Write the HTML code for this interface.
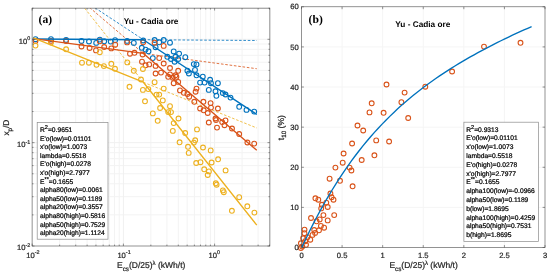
<!DOCTYPE html>
<html><head><meta charset="utf-8"><style>
html,body{margin:0;padding:0;background:#fff;}
body{width:550px;height:276px;overflow:hidden;font-family:"Liberation Sans",sans-serif;}
svg{display:block;} text{text-rendering:geometricPrecision;}
</style></head><body>
<svg style="transform:translateZ(0);will-change:transform" width="550" height="276" viewBox="0 0 550 276">
<rect width="550" height="276" fill="#fff"/>
<line x1="59.65" y1="8.14" x2="59.65" y2="246.0" stroke="#f3f3f3" stroke-width="1"/>
<line x1="75.71" y1="8.14" x2="75.71" y2="246.0" stroke="#f3f3f3" stroke-width="1"/>
<line x1="87.11" y1="8.14" x2="87.11" y2="246.0" stroke="#f3f3f3" stroke-width="1"/>
<line x1="95.95" y1="8.14" x2="95.95" y2="246.0" stroke="#f3f3f3" stroke-width="1"/>
<line x1="103.17" y1="8.14" x2="103.17" y2="246.0" stroke="#f3f3f3" stroke-width="1"/>
<line x1="109.27" y1="8.14" x2="109.27" y2="246.0" stroke="#f3f3f3" stroke-width="1"/>
<line x1="114.56" y1="8.14" x2="114.56" y2="246.0" stroke="#f3f3f3" stroke-width="1"/>
<line x1="119.23" y1="8.14" x2="119.23" y2="246.0" stroke="#f3f3f3" stroke-width="1"/>
<line x1="150.85" y1="8.14" x2="150.85" y2="246.0" stroke="#f3f3f3" stroke-width="1"/>
<line x1="166.91" y1="8.14" x2="166.91" y2="246.0" stroke="#f3f3f3" stroke-width="1"/>
<line x1="178.31" y1="8.14" x2="178.31" y2="246.0" stroke="#f3f3f3" stroke-width="1"/>
<line x1="187.15" y1="8.14" x2="187.15" y2="246.0" stroke="#f3f3f3" stroke-width="1"/>
<line x1="194.37" y1="8.14" x2="194.37" y2="246.0" stroke="#f3f3f3" stroke-width="1"/>
<line x1="200.47" y1="8.14" x2="200.47" y2="246.0" stroke="#f3f3f3" stroke-width="1"/>
<line x1="205.76" y1="8.14" x2="205.76" y2="246.0" stroke="#f3f3f3" stroke-width="1"/>
<line x1="210.43" y1="8.14" x2="210.43" y2="246.0" stroke="#f3f3f3" stroke-width="1"/>
<line x1="242.05" y1="8.14" x2="242.05" y2="246.0" stroke="#f3f3f3" stroke-width="1"/>
<line x1="258.11" y1="8.14" x2="258.11" y2="246.0" stroke="#f3f3f3" stroke-width="1"/>
<line x1="269.51" y1="8.14" x2="269.51" y2="246.0" stroke="#f3f3f3" stroke-width="1"/>
<line x1="32.1" y1="214.89" x2="269.9" y2="214.89" stroke="#f3f3f3" stroke-width="1"/>
<line x1="32.1" y1="196.69" x2="269.9" y2="196.69" stroke="#f3f3f3" stroke-width="1"/>
<line x1="32.1" y1="183.78" x2="269.9" y2="183.78" stroke="#f3f3f3" stroke-width="1"/>
<line x1="32.1" y1="173.76" x2="269.9" y2="173.76" stroke="#f3f3f3" stroke-width="1"/>
<line x1="32.1" y1="165.58" x2="269.9" y2="165.58" stroke="#f3f3f3" stroke-width="1"/>
<line x1="32.1" y1="158.66" x2="269.9" y2="158.66" stroke="#f3f3f3" stroke-width="1"/>
<line x1="32.1" y1="152.67" x2="269.9" y2="152.67" stroke="#f3f3f3" stroke-width="1"/>
<line x1="32.1" y1="147.38" x2="269.9" y2="147.38" stroke="#f3f3f3" stroke-width="1"/>
<line x1="32.1" y1="111.54" x2="269.9" y2="111.54" stroke="#f3f3f3" stroke-width="1"/>
<line x1="32.1" y1="93.34" x2="269.9" y2="93.34" stroke="#f3f3f3" stroke-width="1"/>
<line x1="32.1" y1="80.43" x2="269.9" y2="80.43" stroke="#f3f3f3" stroke-width="1"/>
<line x1="32.1" y1="70.41" x2="269.9" y2="70.41" stroke="#f3f3f3" stroke-width="1"/>
<line x1="32.1" y1="62.23" x2="269.9" y2="62.23" stroke="#f3f3f3" stroke-width="1"/>
<line x1="32.1" y1="55.31" x2="269.9" y2="55.31" stroke="#f3f3f3" stroke-width="1"/>
<line x1="32.1" y1="49.32" x2="269.9" y2="49.32" stroke="#f3f3f3" stroke-width="1"/>
<line x1="32.1" y1="44.03" x2="269.9" y2="44.03" stroke="#f3f3f3" stroke-width="1"/>
<line x1="32.1" y1="8.19" x2="269.9" y2="8.19" stroke="#f3f3f3" stroke-width="1"/>
<line x1="123.40" y1="8.14" x2="123.40" y2="246.0" stroke="#f0f0f0" stroke-width="1"/>
<line x1="214.60" y1="8.14" x2="214.60" y2="246.0" stroke="#f0f0f0" stroke-width="1"/>
<line x1="32.1" y1="142.65" x2="269.9" y2="142.65" stroke="#f0f0f0" stroke-width="1"/>
<line x1="32.1" y1="39.30" x2="269.9" y2="39.30" stroke="#f0f0f0" stroke-width="1"/>
<line x1="342.08" y1="6.8" x2="342.08" y2="247.5" stroke="#f5f5f5" stroke-width="1"/>
<line x1="382.67" y1="6.8" x2="382.67" y2="247.5" stroke="#f5f5f5" stroke-width="1"/>
<line x1="423.25" y1="6.8" x2="423.25" y2="247.5" stroke="#f5f5f5" stroke-width="1"/>
<line x1="463.83" y1="6.8" x2="463.83" y2="247.5" stroke="#f5f5f5" stroke-width="1"/>
<line x1="504.42" y1="6.8" x2="504.42" y2="247.5" stroke="#f5f5f5" stroke-width="1"/>
<line x1="301.5" y1="207.38" x2="545.0" y2="207.38" stroke="#f5f5f5" stroke-width="1"/>
<line x1="301.5" y1="167.27" x2="545.0" y2="167.27" stroke="#f5f5f5" stroke-width="1"/>
<line x1="301.5" y1="127.15" x2="545.0" y2="127.15" stroke="#f5f5f5" stroke-width="1"/>
<line x1="301.5" y1="87.03" x2="545.0" y2="87.03" stroke="#f5f5f5" stroke-width="1"/>
<line x1="301.5" y1="46.92" x2="545.0" y2="46.92" stroke="#f5f5f5" stroke-width="1"/>
<defs><clipPath id="cl"><rect x="32.1" y="8.14" width="237.79999999999998" height="237.86"/></clipPath><clipPath id="cr"><rect x="301.5" y="6.8" width="243.5" height="240.7"/></clipPath></defs>
<g clip-path="url(#cl)"><line x1="143.35" y1="39.72" x2="256.77" y2="40.50" stroke="#0072BD" stroke-width="0.9" stroke-dasharray="2.6 1.75" opacity="0.9"/>
<line x1="33.37" y1="-32.80" x2="143.35" y2="39.69" stroke="#0072BD" stroke-width="0.9" stroke-dasharray="2.6 1.75" opacity="0.9"/>
<line x1="143.35" y1="53.44" x2="256.77" y2="68.72" stroke="#D95319" stroke-width="0.9" stroke-dasharray="2.6 1.75" opacity="0.9"/>
<line x1="33.37" y1="-40.43" x2="143.35" y2="53.41" stroke="#D95319" stroke-width="0.9" stroke-dasharray="2.6 1.75" opacity="0.9"/>
<line x1="143.35" y1="82.24" x2="256.77" y2="127.96" stroke="#EDB120" stroke-width="0.9" stroke-dasharray="2.6 1.75" opacity="0.9"/>
<line x1="33.37" y1="-56.45" x2="143.35" y2="82.19" stroke="#EDB120" stroke-width="0.9" stroke-dasharray="2.6 1.75" opacity="0.9"/></g>
<g clip-path="url(#cl)">
<g fill="none" stroke="#0072BD" stroke-width="1.1"><circle cx="35.5" cy="39.2" r="2.4"/><circle cx="51.0" cy="39.2" r="2.4"/><circle cx="66.1" cy="40.0" r="2.4"/><circle cx="81.5" cy="41.0" r="2.4"/><circle cx="89.0" cy="41.5" r="2.4"/><circle cx="96.2" cy="42.9" r="2.4"/><circle cx="99.8" cy="39.6" r="2.4"/><circle cx="104.2" cy="41.3" r="2.4"/><circle cx="110.7" cy="41.6" r="2.4"/><circle cx="115.1" cy="40.2" r="2.4"/><circle cx="127.1" cy="40.9" r="2.4"/><circle cx="133.8" cy="42.9" r="2.4"/><circle cx="143.2" cy="40.5" r="2.4"/><circle cx="141.8" cy="47.8" r="2.4"/><circle cx="145.6" cy="49.6" r="2.4"/><circle cx="148.5" cy="51.3" r="2.4"/><circle cx="152.8" cy="58.1" r="2.4"/><circle cx="154.6" cy="40.0" r="2.4"/><circle cx="155.6" cy="47.2" r="2.4"/><circle cx="159.2" cy="42.3" r="2.4"/><circle cx="163.7" cy="40.0" r="2.4"/><circle cx="170.0" cy="42.7" r="2.4"/><circle cx="167.3" cy="56.8" r="2.4"/><circle cx="171.0" cy="59.0" r="2.4"/><circle cx="173.7" cy="51.4" r="2.4"/><circle cx="175.5" cy="56.8" r="2.4"/><circle cx="178.2" cy="59.0" r="2.4"/><circle cx="174.6" cy="61.7" r="2.4"/><circle cx="179.1" cy="53.6" r="2.4"/><circle cx="185.3" cy="57.2" r="2.4"/><circle cx="193.8" cy="64.1" r="2.4"/><circle cx="196.5" cy="64.4" r="2.4"/><circle cx="195.0" cy="69.9" r="2.4"/><circle cx="187.4" cy="70.8" r="2.4"/><circle cx="188.9" cy="73.5" r="2.4"/><circle cx="196.5" cy="75.3" r="2.4"/><circle cx="202.8" cy="76.7" r="2.4"/><circle cx="210.1" cy="79.8" r="2.4"/><circle cx="200.1" cy="82.6" r="2.4"/><circle cx="204.6" cy="82.6" r="2.4"/><circle cx="211.0" cy="83.2" r="2.4"/><circle cx="217.9" cy="83.2" r="2.4"/><circle cx="208.8" cy="89.9" r="2.4"/><circle cx="215.5" cy="91.3" r="2.4"/><circle cx="222.8" cy="93.1" r="2.4"/><circle cx="225.5" cy="94.5" r="2.4"/><circle cx="216.4" cy="95.8" r="2.4"/><circle cx="230.5" cy="97.6" r="2.4"/><circle cx="239.2" cy="106.8" r="2.4"/><circle cx="246.5" cy="109.9" r="2.4"/><circle cx="254.2" cy="111.6" r="2.4"/></g>
<g fill="none" stroke="#D95319" stroke-width="1.1"><circle cx="35.5" cy="40.9" r="2.4"/><circle cx="51.0" cy="40.9" r="2.4"/><circle cx="66.1" cy="41.0" r="2.4"/><circle cx="81.5" cy="46.5" r="2.4"/><circle cx="89.6" cy="48.0" r="2.4"/><circle cx="96.0" cy="50.4" r="2.4"/><circle cx="99.8" cy="41.3" r="2.4"/><circle cx="104.2" cy="47.0" r="2.4"/><circle cx="111.3" cy="48.4" r="2.4"/><circle cx="115.2" cy="44.7" r="2.4"/><circle cx="127.1" cy="42.4" r="2.4"/><circle cx="130.0" cy="53.7" r="2.4"/><circle cx="134.5" cy="52.8" r="2.4"/><circle cx="142.6" cy="54.5" r="2.4"/><circle cx="143.2" cy="42.3" r="2.4"/><circle cx="154.6" cy="42.7" r="2.4"/><circle cx="163.7" cy="45.9" r="2.4"/><circle cx="159.2" cy="58.1" r="2.4"/><circle cx="142.0" cy="61.7" r="2.4"/><circle cx="145.6" cy="65.3" r="2.4"/><circle cx="149.2" cy="64.4" r="2.4"/><circle cx="155.6" cy="65.9" r="2.4"/><circle cx="163.7" cy="63.5" r="2.4"/><circle cx="170.0" cy="68.0" r="2.4"/><circle cx="155.6" cy="73.5" r="2.4"/><circle cx="161.0" cy="72.6" r="2.4"/><circle cx="170.0" cy="74.4" r="2.4"/><circle cx="175.5" cy="75.3" r="2.4"/><circle cx="178.2" cy="70.8" r="2.4"/><circle cx="168.2" cy="76.8" r="2.4"/><circle cx="172.8" cy="77.7" r="2.4"/><circle cx="176.4" cy="76.8" r="2.4"/><circle cx="173.7" cy="83.2" r="2.4"/><circle cx="178.2" cy="81.9" r="2.4"/><circle cx="180.0" cy="90.4" r="2.4"/><circle cx="196.5" cy="88.6" r="2.4"/><circle cx="195.6" cy="91.7" r="2.4"/><circle cx="183.8" cy="92.8" r="2.4"/><circle cx="187.4" cy="94.0" r="2.4"/><circle cx="189.2" cy="96.7" r="2.4"/><circle cx="194.3" cy="101.8" r="2.4"/><circle cx="203.4" cy="101.8" r="2.4"/><circle cx="210.6" cy="103.1" r="2.4"/><circle cx="200.1" cy="108.5" r="2.4"/><circle cx="203.7" cy="110.3" r="2.4"/><circle cx="211.0" cy="107.6" r="2.4"/><circle cx="207.7" cy="113.0" r="2.4"/><circle cx="217.9" cy="108.5" r="2.4"/><circle cx="215.5" cy="118.5" r="2.4"/><circle cx="208.8" cy="122.5" r="2.4"/><circle cx="222.2" cy="122.1" r="2.4"/><circle cx="225.5" cy="120.4" r="2.4"/><circle cx="216.0" cy="120.0" r="2.4"/><circle cx="217.0" cy="127.6" r="2.4"/><circle cx="224.5" cy="125.2" r="2.4"/><circle cx="232.0" cy="128.5" r="2.4"/><circle cx="239.2" cy="134.0" r="2.4"/><circle cx="247.4" cy="142.5" r="2.4"/><circle cx="254.2" cy="143.6" r="2.4"/></g>
<g fill="none" stroke="#EDB120" stroke-width="1.1"><circle cx="35.5" cy="45.6" r="2.4"/><circle cx="51.0" cy="42.6" r="2.4"/><circle cx="66.1" cy="49.3" r="2.4"/><circle cx="82.0" cy="62.7" r="2.4"/><circle cx="88.9" cy="62.7" r="2.4"/><circle cx="96.5" cy="64.8" r="2.4"/><circle cx="99.8" cy="52.2" r="2.4"/><circle cx="103.9" cy="66.1" r="2.4"/><circle cx="111.3" cy="63.8" r="2.4"/><circle cx="115.0" cy="68.8" r="2.4"/><circle cx="127.3" cy="62.4" r="2.4"/><circle cx="129.5" cy="86.8" r="2.4"/><circle cx="133.8" cy="70.8" r="2.4"/><circle cx="142.9" cy="69.0" r="2.4"/><circle cx="141.0" cy="79.5" r="2.4"/><circle cx="154.6" cy="82.2" r="2.4"/><circle cx="142.9" cy="89.9" r="2.4"/><circle cx="148.3" cy="89.1" r="2.4"/><circle cx="156.5" cy="94.6" r="2.4"/><circle cx="159.2" cy="94.6" r="2.4"/><circle cx="163.7" cy="88.6" r="2.4"/><circle cx="145.0" cy="101.3" r="2.4"/><circle cx="162.8" cy="100.4" r="2.4"/><circle cx="160.1" cy="108.0" r="2.4"/><circle cx="170.0" cy="106.2" r="2.4"/><circle cx="168.2" cy="112.1" r="2.4"/><circle cx="171.0" cy="112.1" r="2.4"/><circle cx="152.8" cy="113.4" r="2.4"/><circle cx="157.7" cy="120.8" r="2.4"/><circle cx="173.7" cy="123.1" r="2.4"/><circle cx="178.5" cy="118.5" r="2.4"/><circle cx="172.8" cy="130.9" r="2.4"/><circle cx="179.6" cy="142.3" r="2.4"/><circle cx="185.2" cy="133.0" r="2.4"/><circle cx="197.0" cy="129.4" r="2.4"/><circle cx="195.2" cy="140.3" r="2.4"/><circle cx="193.9" cy="142.6" r="2.4"/><circle cx="188.0" cy="146.8" r="2.4"/><circle cx="188.7" cy="152.9" r="2.4"/><circle cx="203.0" cy="147.5" r="2.4"/><circle cx="210.7" cy="150.4" r="2.4"/><circle cx="196.2" cy="163.0" r="2.4"/><circle cx="200.5" cy="162.2" r="2.4"/><circle cx="211.6" cy="162.5" r="2.4"/><circle cx="218.1" cy="159.3" r="2.4"/><circle cx="204.2" cy="169.3" r="2.4"/><circle cx="208.9" cy="171.4" r="2.4"/><circle cx="207.7" cy="175.0" r="2.4"/><circle cx="225.6" cy="170.4" r="2.4"/><circle cx="215.8" cy="183.3" r="2.4"/><circle cx="216.6" cy="184.7" r="2.4"/><circle cx="222.9" cy="190.4" r="2.4"/><circle cx="223.8" cy="192.2" r="2.4"/><circle cx="239.2" cy="197.2" r="2.4"/><circle cx="247.3" cy="206.3" r="2.4"/><circle cx="231.9" cy="210.8" r="2.4"/><circle cx="254.4" cy="212.6" r="2.4"/></g>
</g>
<g clip-path="url(#cl)"><path d="M33.37,38.96 L143.35,39.72 L256.77,114.44" fill="none" stroke="#0072BD" stroke-width="1.35" stroke-linejoin="round"/><path d="M33.37,38.62 L143.35,53.44 L256.77,150.18" fill="none" stroke="#D95319" stroke-width="1.35" stroke-linejoin="round"/><path d="M33.37,37.91 L143.35,82.24 L256.77,225.17" fill="none" stroke="#EDB120" stroke-width="1.35" stroke-linejoin="round"/></g>
<g fill="none" stroke="#D95319" stroke-width="1.1"><circle cx="311.0" cy="218.0" r="2.4"/><circle cx="323.4" cy="215.1" r="2.4"/><circle cx="334.2" cy="215.1" r="2.4"/><circle cx="319.7" cy="219.4" r="2.4"/><circle cx="316.6" cy="221.3" r="2.4"/><circle cx="327.7" cy="220.4" r="2.4"/><circle cx="320.9" cy="225.9" r="2.4"/><circle cx="324.1" cy="227.7" r="2.4"/><circle cx="314.2" cy="230.0" r="2.4"/><circle cx="319.0" cy="230.3" r="2.4"/><circle cx="315.1" cy="232.9" r="2.4"/><circle cx="304.5" cy="229.6" r="2.4"/><circle cx="304.5" cy="233.2" r="2.4"/><circle cx="312.5" cy="234.9" r="2.4"/><circle cx="307.4" cy="237.2" r="2.4"/><circle cx="303.1" cy="238.3" r="2.4"/><circle cx="310.3" cy="239.7" r="2.4"/><circle cx="305.2" cy="241.2" r="2.4"/><circle cx="300.9" cy="243.3" r="2.4"/><circle cx="306.0" cy="244.8" r="2.4"/><circle cx="302.3" cy="246.5" r="2.4"/><circle cx="300.9" cy="248.0" r="2.4"/><circle cx="329.6" cy="178.7" r="2.4"/><circle cx="330.4" cy="193.5" r="2.4"/><circle cx="331.6" cy="197.2" r="2.4"/><circle cx="333.5" cy="199.7" r="2.4"/><circle cx="315.4" cy="198.3" r="2.4"/><circle cx="318.3" cy="199.7" r="2.4"/><circle cx="321.9" cy="204.8" r="2.4"/><circle cx="326.3" cy="202.6" r="2.4"/><circle cx="327.7" cy="207.0" r="2.4"/><circle cx="321.2" cy="208.4" r="2.4"/><circle cx="335.4" cy="167.6" r="2.4"/><circle cx="342.7" cy="162.7" r="2.4"/><circle cx="349.6" cy="167.6" r="2.4"/><circle cx="351.4" cy="170.5" r="2.4"/><circle cx="361.7" cy="160.0" r="2.4"/><circle cx="340.0" cy="180.8" r="2.4"/><circle cx="352.6" cy="186.3" r="2.4"/><circle cx="369.5" cy="112.4" r="2.4"/><circle cx="357.5" cy="125.5" r="2.4"/><circle cx="363.2" cy="130.5" r="2.4"/><circle cx="352.1" cy="143.5" r="2.4"/><circle cx="343.6" cy="153.5" r="2.4"/><circle cx="376.2" cy="140.4" r="2.4"/><circle cx="374.4" cy="155.3" r="2.4"/><circle cx="371.7" cy="103.3" r="2.4"/><circle cx="383.6" cy="112.8" r="2.4"/><circle cx="386.5" cy="84.5" r="2.4"/><circle cx="404.6" cy="92.6" r="2.4"/><circle cx="401.4" cy="102.2" r="2.4"/><circle cx="408.2" cy="118.0" r="2.4"/><circle cx="425.3" cy="86.7" r="2.4"/><circle cx="389.1" cy="141.5" r="2.4"/><circle cx="452.1" cy="71.5" r="2.4"/><circle cx="484.0" cy="46.6" r="2.4"/><circle cx="520.5" cy="42.8" r="2.4"/></g>
<g clip-path="url(#cr)">
<path d="M301.60,247.86 L305.43,239.67 L309.27,231.76 L313.10,224.12 L316.93,216.75 L320.77,209.63 L324.60,202.77 L328.43,196.14 L332.27,189.74 L336.10,183.57 L339.93,177.61 L343.77,171.86 L347.60,166.31 L351.43,160.95 L355.27,155.77 L359.10,150.77 L362.93,145.94 L366.77,141.28 L370.60,136.77 L374.43,132.41 L378.27,128.20 L382.10,124.12 L385.93,120.18 L389.77,116.36 L393.60,112.67 L397.43,109.09 L401.27,105.61 L405.10,102.25 L408.93,98.98 L412.77,95.81 L416.60,92.73 L420.43,89.74 L424.27,86.82 L428.10,83.99 L431.93,81.23 L435.77,78.54 L439.60,75.92 L443.43,73.36 L447.27,70.85 L451.10,68.41 L454.93,66.02 L458.77,63.68 L462.60,61.39 L466.43,59.15 L470.27,56.95 L474.10,54.80 L477.93,52.68 L481.77,50.60 L485.60,48.56 L489.43,46.56 L493.27,44.59 L497.10,42.65 L500.93,40.75 L504.77,38.87 L508.60,37.03 L512.43,35.22 L516.27,33.45 L520.10,31.70 L523.93,29.98 L527.77,28.30 L531.60,26.65" fill="none" stroke="#0072BD" stroke-width="1.35"/>
</g>
<rect x="32.1" y="8.14" width="237.79999999999998" height="237.86" fill="none" stroke="#4a4a4a" stroke-width="0.6"/>
<rect x="301.5" y="6.8" width="243.5" height="240.7" fill="none" stroke="#4a4a4a" stroke-width="0.6"/>
<path d="M32.20,246.0v-2.4M32.20,8.14v2.4M123.40,246.0v-2.4M123.40,8.14v2.4M214.60,246.0v-2.4M214.60,8.14v2.4M59.65,246.0v-1.4M59.65,8.14v1.4M75.71,246.0v-1.4M75.71,8.14v1.4M87.11,246.0v-1.4M87.11,8.14v1.4M95.95,246.0v-1.4M95.95,8.14v1.4M103.17,246.0v-1.4M103.17,8.14v1.4M109.27,246.0v-1.4M109.27,8.14v1.4M114.56,246.0v-1.4M114.56,8.14v1.4M119.23,246.0v-1.4M119.23,8.14v1.4M150.85,246.0v-1.4M150.85,8.14v1.4M166.91,246.0v-1.4M166.91,8.14v1.4M178.31,246.0v-1.4M178.31,8.14v1.4M187.15,246.0v-1.4M187.15,8.14v1.4M194.37,246.0v-1.4M194.37,8.14v1.4M200.47,246.0v-1.4M200.47,8.14v1.4M205.76,246.0v-1.4M205.76,8.14v1.4M210.43,246.0v-1.4M210.43,8.14v1.4M242.05,246.0v-1.4M242.05,8.14v1.4M258.11,246.0v-1.4M258.11,8.14v1.4M269.51,246.0v-1.4M269.51,8.14v1.4M32.1,246.00h2.4M269.9,246.00h-2.4M32.1,142.65h2.4M269.9,142.65h-2.4M32.1,39.30h2.4M269.9,39.30h-2.4M32.1,214.89h1.4M269.9,214.89h-1.4M32.1,196.69h1.4M269.9,196.69h-1.4M32.1,183.78h1.4M269.9,183.78h-1.4M32.1,173.76h1.4M269.9,173.76h-1.4M32.1,165.58h1.4M269.9,165.58h-1.4M32.1,158.66h1.4M269.9,158.66h-1.4M32.1,152.67h1.4M269.9,152.67h-1.4M32.1,147.38h1.4M269.9,147.38h-1.4M32.1,111.54h1.4M269.9,111.54h-1.4M32.1,93.34h1.4M269.9,93.34h-1.4M32.1,80.43h1.4M269.9,80.43h-1.4M32.1,70.41h1.4M269.9,70.41h-1.4M32.1,62.23h1.4M269.9,62.23h-1.4M32.1,55.31h1.4M269.9,55.31h-1.4M32.1,49.32h1.4M269.9,49.32h-1.4M32.1,44.03h1.4M269.9,44.03h-1.4M32.1,8.19h1.4M269.9,8.19h-1.4M301.50,247.5v-2.4M301.50,6.8v2.4M342.08,247.5v-2.4M342.08,6.8v2.4M382.67,247.5v-2.4M382.67,6.8v2.4M423.25,247.5v-2.4M423.25,6.8v2.4M463.83,247.5v-2.4M463.83,6.8v2.4M504.42,247.5v-2.4M504.42,6.8v2.4M545.00,247.5v-2.4M545.00,6.8v2.4M301.5,247.50h2.4M545.0,247.50h-2.4M301.5,207.38h2.4M545.0,207.38h-2.4M301.5,167.27h2.4M545.0,167.27h-2.4M301.5,127.15h2.4M545.0,127.15h-2.4M301.5,87.03h2.4M545.0,87.03h-2.4M301.5,46.92h2.4M545.0,46.92h-2.4M301.5,6.80h2.4M545.0,6.80h-2.4" stroke="#4a4a4a" stroke-width="0.6" fill="none"/>
<g font-family="Liberation Sans, sans-serif" font-size="6.7" fill="#000" stroke="#000" stroke-width="0.22"><rect x="37.2" y="122.4" width="70.8" height="116.8" fill="#fff" stroke="#8c8c8c" stroke-width="0.7"/>
<text x="40.0" y="131.90">R<tspan baseline-shift="super" font-size="5.6">2</tspan>=0.9651</text>
<text x="40.0" y="140.52">E'o(low)=0.01101</text>
<text x="40.0" y="149.14">x'o(low)=1.0073</text>
<text x="40.0" y="157.76">lambda=0.5518</text>
<text x="40.0" y="166.38">E'o(high)=0.0278</text>
<text x="40.0" y="175.00">x'o(high)=2.7977</text>
<text x="40.0" y="183.62">E<tspan baseline-shift="super" font-size="5.6">**</tspan>=0.1655</text>
<text x="40.0" y="192.24">alpha80(low)=0.0061</text>
<text x="40.0" y="200.86">alpha50(low)=0.1189</text>
<text x="40.0" y="209.48">alpha20(low)=0.3557</text>
<text x="40.0" y="218.10">alpha80(high)=0.5816</text>
<text x="40.0" y="226.72">alpha50(high)=0.7529</text>
<text x="40.0" y="235.34">alpha20(high)=1.1124</text>
<rect x="463.9" y="122.2" width="74.5" height="119.2" fill="#fff" stroke="#8c8c8c" stroke-width="0.7"/>
<text x="466.2" y="131.70">R<tspan baseline-shift="super" font-size="5.6">2</tspan>=0.9313</text>
<text x="466.2" y="140.49">E'o(low)=0.01101</text>
<text x="466.2" y="149.28">x'o(low)=1.0073</text>
<text x="466.2" y="158.07">lambda=0.5518</text>
<text x="466.2" y="166.86">E'o(high)=0.0278</text>
<text x="466.2" y="175.65">x'o(high)=2.7977</text>
<text x="466.2" y="184.44">E<tspan baseline-shift="super" font-size="5.6">**</tspan>=0.1655</text>
<text x="466.2" y="193.23">alpha100(low)=-0.0966</text>
<text x="466.2" y="202.02">alpha50(low)=0.1189</text>
<text x="466.2" y="210.81">b(low)=1.8695</text>
<text x="466.2" y="219.60">alpha100(high)=0.4259</text>
<text x="466.2" y="228.39">alpha50(high)=0.7531</text>
<text x="466.2" y="237.18">b(high)=1.8695</text></g>
<text x="123.8" y="23.5" font-family="Liberation Sans, sans-serif" font-weight="bold" font-size="8.2" fill="#000">Yu - Cadia ore</text>
<text x="395.3" y="26.9" font-family="Liberation Sans, sans-serif" font-weight="bold" font-size="8.25" fill="#000">Yu - Cadia ore</text>
<text x="38.6" y="23.1" font-family="Liberation Serif, serif" font-weight="bold" font-size="11.6" fill="#000">(a)</text>
<text x="308.6" y="22.9" font-family="Liberation Serif, serif" font-weight="bold" font-size="11.6" fill="#000">(b)</text>
<text x="30.2" y="43.60" text-anchor="end" font-size="7.6" font-family="Liberation Sans, sans-serif" fill="#262626" stroke="#262626" stroke-width="0.22">10<tspan dy="-3.4" font-size="5.4">0</tspan></text>
<text x="30.2" y="146.95" text-anchor="end" font-size="7.6" font-family="Liberation Sans, sans-serif" fill="#262626" stroke="#262626" stroke-width="0.22">10<tspan dy="-3.4" font-size="5.4">-1</tspan></text>
<text x="30.2" y="250.30" text-anchor="end" font-size="7.6" font-family="Liberation Sans, sans-serif" fill="#262626" stroke="#262626" stroke-width="0.22">10<tspan dy="-3.4" font-size="5.4">-2</tspan></text>
<text x="26.20" y="257.7" font-size="7.6" font-family="Liberation Sans, sans-serif" fill="#262626" stroke="#262626" stroke-width="0.22">10<tspan dy="-3.4" font-size="5.4">-2</tspan></text>
<text x="117.40" y="257.7" font-size="7.6" font-family="Liberation Sans, sans-serif" fill="#262626" stroke="#262626" stroke-width="0.22">10<tspan dy="-3.4" font-size="5.4">-1</tspan></text>
<text x="208.60" y="257.7" font-size="7.6" font-family="Liberation Sans, sans-serif" fill="#262626" stroke="#262626" stroke-width="0.22">10<tspan dy="-3.4" font-size="5.4">0</tspan></text>
<text x="298.8" y="250.10" text-anchor="end" font-size="7.6" font-family="Liberation Sans, sans-serif" fill="#262626" stroke="#262626" stroke-width="0.22">0</text>
<text x="298.8" y="209.98" text-anchor="end" font-size="7.6" font-family="Liberation Sans, sans-serif" fill="#262626" stroke="#262626" stroke-width="0.22">10</text>
<text x="298.8" y="169.87" text-anchor="end" font-size="7.6" font-family="Liberation Sans, sans-serif" fill="#262626" stroke="#262626" stroke-width="0.22">20</text>
<text x="298.8" y="129.75" text-anchor="end" font-size="7.6" font-family="Liberation Sans, sans-serif" fill="#262626" stroke="#262626" stroke-width="0.22">30</text>
<text x="298.8" y="89.63" text-anchor="end" font-size="7.6" font-family="Liberation Sans, sans-serif" fill="#262626" stroke="#262626" stroke-width="0.22">40</text>
<text x="298.8" y="49.52" text-anchor="end" font-size="7.6" font-family="Liberation Sans, sans-serif" fill="#262626" stroke="#262626" stroke-width="0.22">50</text>
<text x="298.8" y="9.40" text-anchor="end" font-size="7.6" font-family="Liberation Sans, sans-serif" fill="#262626" stroke="#262626" stroke-width="0.22">60</text>
<text x="301.50" y="257.7" text-anchor="middle" font-size="7.6" font-family="Liberation Sans, sans-serif" fill="#262626" stroke="#262626" stroke-width="0.22">0</text>
<text x="342.08" y="257.7" text-anchor="middle" font-size="7.6" font-family="Liberation Sans, sans-serif" fill="#262626" stroke="#262626" stroke-width="0.22">0.5</text>
<text x="382.67" y="257.7" text-anchor="middle" font-size="7.6" font-family="Liberation Sans, sans-serif" fill="#262626" stroke="#262626" stroke-width="0.22">1</text>
<text x="423.25" y="257.7" text-anchor="middle" font-size="7.6" font-family="Liberation Sans, sans-serif" fill="#262626" stroke="#262626" stroke-width="0.22">1.5</text>
<text x="463.83" y="257.7" text-anchor="middle" font-size="7.6" font-family="Liberation Sans, sans-serif" fill="#262626" stroke="#262626" stroke-width="0.22">2</text>
<text x="504.42" y="257.7" text-anchor="middle" font-size="7.6" font-family="Liberation Sans, sans-serif" fill="#262626" stroke="#262626" stroke-width="0.22">2.5</text>
<text x="545.00" y="257.7" text-anchor="middle" font-size="7.6" font-family="Liberation Sans, sans-serif" fill="#262626" stroke="#262626" stroke-width="0.22">3</text>
<text x="117.0" y="268.4" font-size="8.5" font-family="Liberation Sans, sans-serif" fill="#262626" stroke="#262626" stroke-width="0.22">E<tspan dy="3.0" font-size="6.3">cs</tspan><tspan dy="-3.0">(D/25)</tspan><tspan dy="-3.6" font-size="6.0">λ</tspan><tspan dy="3.6"> (kWh/t)</tspan></text>
<text x="389.4" y="268.3" font-size="8.5" font-family="Liberation Sans, sans-serif" fill="#262626" stroke="#262626" stroke-width="0.22">E<tspan dy="3.0" font-size="6.3">cs</tspan><tspan dy="-3.0">(D/25)</tspan><tspan dy="-3.6" font-size="6.0">λ</tspan><tspan dy="3.6"> (kWh/t)</tspan></text>
<text transform="translate(9.2,135.6) rotate(-90)" font-size="8.4" font-family="Liberation Sans, sans-serif" fill="#262626" stroke="#262626" stroke-width="0.22">x<tspan dy="2.8" font-size="6.2">p</tspan><tspan dy="-2.8">/D</tspan></text>
<text transform="translate(283.5,140.2) rotate(-90)" font-size="8.6" font-family="Liberation Sans, sans-serif" fill="#262626" stroke="#262626" stroke-width="0.22">t<tspan dy="2.8" font-size="6.3">10</tspan><tspan dy="-2.8"> (%)</tspan></text>
</svg>
</body></html>
